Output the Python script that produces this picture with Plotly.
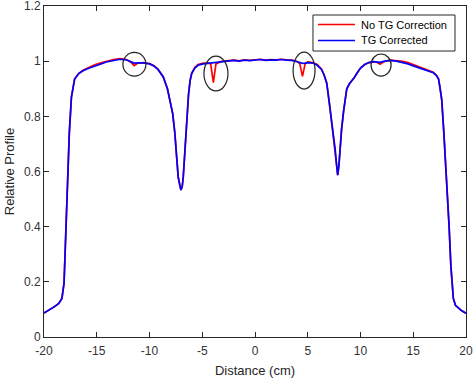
import plotly.graph_objects as go

# Distance (cm)
distance = [-20, -19.5, -19, -18.6, -18.3, -18.1, -17.9, -17.75, -17.6, -17.4, -17.1, -16.7, -16.3,
            -15.7, -15.2, -14.6, -14.1, -13.4, -12.8, -12.2, -11.8, -11.45, -11.1, -10.6, -10.0,
            -9.6, -9.2, -8.7, -8.3, -8.06, -7.8, -7.6, -7.4, -7.28, -7.1, -7.02, -6.9, -6.8, -6.65,
            -6.55, -6.4, -6.3, -6.15, -6.0, -5.7, -5.4, -4.9, -4.4, -4.2, -3.95, -3.7, -3.2, -2.7,
            -2.0, -1.5, -1.0, -0.5, 0, 0.5, 1.0, 1.5, 2.0, 2.5, 3.0, 3.5, 4.0, 4.25, 4.5, 4.75, 5.0,
            5.5, 5.9, 6.3, 6.55, 6.8, 7.05, 7.27, 7.45, 7.6, 7.72, 7.84, 7.95, 8.06, 8.2, 8.4, 8.55,
            8.7, 8.95, 9.17, 9.4, 9.65, 10.0, 10.4, 10.8, 11.2, 11.55, 11.86, 12.2, 12.8, 13.4, 14.0,
            14.5, 15.0, 15.5, 16.0, 16.5, 16.9, 17.2, 17.4, 17.55, 17.7, 17.9, 18.05, 18.2, 18.4,
            18.57, 18.7, 18.8, 19.0, 19.3, 19.6, 20]

tg_corrected = [0.087, 0.097, 0.11, 0.122, 0.14, 0.195, 0.44, 0.6, 0.74, 0.87, 0.935, 0.955, 0.965,
                0.975, 0.983, 0.99, 0.997, 1.003, 1.007, 1.005, 0.998, 0.993, 0.994, 0.994, 0.99,
                0.983, 0.97, 0.943, 0.9, 0.86, 0.81, 0.74, 0.64, 0.58, 0.545, 0.533, 0.545, 0.58, 0.67,
                0.74, 0.83, 0.88, 0.93, 0.955, 0.975, 0.985, 0.99, 0.992, 0.993, 0.993, 0.995, 0.998, 1.0,
                1.003, 1.0, 1.004, 1.002, 1.005, 1.006, 1.003, 1.005, 1.004, 1.006, 1.004, 1.003, 0.998, 0.995, 0.992, 0.993, 0.995,
                0.993, 0.985, 0.97, 0.95, 0.92, 0.85, 0.774, 0.72, 0.68, 0.63, 0.587, 0.62, 0.68, 0.75, 0.82, 0.87,
                0.9, 0.918, 0.927, 0.94, 0.955, 0.975, 0.988, 0.995, 0.998, 0.998, 0.996, 0.999, 1.003, 1.0, 0.995,
                0.99, 0.983, 0.977, 0.97, 0.965, 0.958, 0.948, 0.935, 0.9, 0.86, 0.74, 0.65, 0.557, 0.4,
                0.255, 0.18, 0.14, 0.115, 0.104, 0.095, 0.086]

no_tg_correction = [0.087, 0.097, 0.11, 0.122, 0.14, 0.195, 0.44, 0.6, 0.74, 0.87, 0.935, 0.956, 0.967,
                    0.978, 0.987, 0.994, 1.0, 1.006, 1.009, 1.006, 0.997, 0.984, 0.993, 0.995, 0.991,
                    0.984, 0.971, 0.944, 0.9, 0.86, 0.81, 0.74, 0.64, 0.58, 0.545, 0.533, 0.545, 0.58, 0.67,
                    0.74, 0.83, 0.88, 0.93, 0.957, 0.978, 0.988, 0.993, 0.993, 0.99, 0.922, 0.99, 0.999, 1.001,
                    1.004, 1.001, 1.005, 1.003, 1.006, 1.007, 1.004, 1.006, 1.005, 1.007, 1.005, 1.004, 0.999, 0.99, 0.945, 0.99, 0.997,
                    0.995, 0.988, 0.972, 0.95, 0.92, 0.85, 0.774, 0.72, 0.68, 0.63, 0.587, 0.62, 0.68, 0.75, 0.82, 0.87,
                    0.9, 0.918, 0.927, 0.94, 0.955, 0.975, 0.988, 0.995, 0.998, 0.996, 0.989, 0.998, 1.004, 1.002, 0.999,
                    0.995, 0.988, 0.981, 0.974, 0.968, 0.96, 0.949, 0.935, 0.9, 0.86, 0.74, 0.65, 0.557, 0.4,
                    0.255, 0.18, 0.14, 0.115, 0.104, 0.095, 0.086]

series_names = ["No TG Correction", "TG Corrected"]
series_colors = ["#ff0000", "#0000ff"]

x_tick_vals = [-20, -15, -10, -5, 0, 5, 10, 15, 20]
x_tick_text = ["-20", "-15", "-10", "-5", "0", "5", "10", "15", "20"]
y_tick_vals = [0, 0.2, 0.4, 0.6, 0.8, 1.0, 1.2]
y_tick_text = ["0", "0.2", "0.4", "0.6", "0.8", "1", "1.2"]

# Highlight ellipses: centre x, centre y, half-width (cm), half-height
circle_x = [-11.43, -3.7, 4.65, 11.95]
circle_y = [0.989, 0.955, 0.966, 0.986]
circle_rx = [1.09, 1.14, 1.04, 0.95]
circle_ry = [0.043, 0.063, 0.067, 0.04]

FONT = "Liberation Sans, Arial, sans-serif"

fig = go.Figure()
for yvals, name, color in zip([no_tg_correction, tg_corrected], series_names, series_colors):
    fig.add_trace(go.Scatter(x=distance, y=yvals, mode="lines", name=name,
                             line=dict(color=color, width=1.7), showlegend=False))

for cx, cy, rx, ry in zip(circle_x, circle_y, circle_rx, circle_ry):
    fig.add_shape(type="circle", xref="x", yref="y", x0=cx - rx, x1=cx + rx, y0=cy - ry, y1=cy + ry,
                  line=dict(color="#222222", width=1.2))

# Compact MATLAB-style legend box (drawn in paper coordinates)
fig.add_shape(type="rect", xref="paper", yref="paper", x0=0.6374, x1=0.9739, y0=0.864, y1=0.9728,
              line=dict(color="#262626", width=1), fillcolor="white", layer="above")
legend_rows_y = [0.944, 0.8958]
for ly, name, color in zip(legend_rows_y, series_names, series_colors):
    fig.add_shape(type="line", xref="paper", yref="paper", x0=0.6493, x1=0.737, y0=ly, y1=ly,
                  line=dict(color=color, width=1.5), layer="above")
    fig.add_annotation(xref="paper", yref="paper", x=0.7464, y=ly, text=name, showarrow=False,
                       xanchor="left", yanchor="middle",
                       font=dict(family=FONT, size=11, color="#000000"))

axis_common = dict(showgrid=False, zeroline=False, showline=True, linecolor="#262626", linewidth=1,
                   mirror="ticks", ticks="inside", ticklen=5, tickcolor="#262626", automargin=False,
                   ticklabeloverflow="allow",
                   tickfont=dict(family=FONT, size=12, color="#333333"))

fig.update_layout(
    width=474, height=379,
    margin=dict(l=44, r=8, t=6, b=42),
    paper_bgcolor="white", plot_bgcolor="white",
    showlegend=False,
    font=dict(family=FONT, color="#262626"),
)
fig.update_xaxes(range=[-20, 20], tickvals=x_tick_vals, ticktext=x_tick_text,
                 ticklabelstandoff=3,
                 title=dict(text="Distance (cm)", font=dict(size=13, color="#262626"), standoff=8),
                 **axis_common)
fig.update_yaxes(range=[0, 1.2], tickvals=y_tick_vals, ticktext=y_tick_text,
                 title=dict(text="Relative Profile", font=dict(size=13, color="#262626"), standoff=6),
                 **axis_common)

fig.write_html("out.html", config={"displayModeBar": False},
               post_script="document.body.style.margin='0';")
